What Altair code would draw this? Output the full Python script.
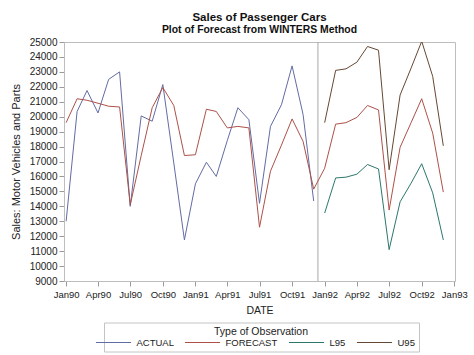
import altair as alt
import pandas as pd

# ---- data ----
dates = pd.date_range("1990-01-01", periods=36, freq="MS").strftime("%Y-%m-%d").tolist()

actual = [13000, 20350, 21750, 20250, 22500, 23000, 14000, 20050, 19700, 22150, 16900, 11750,
          15500, 16950, 16000, 18400, 20600, 19800, 14200, 19350, 20800, 23400, 20150, 14350]
forecast = [19600, 21200, 21100, 20900, 20700, 20650, 14100, 17400, 20600, 21950, 20750, 17400,
            17450, 20500, 20350, 19250, 19350, 19250, 12600, 16350, 18100, 19850, 18350, 15150,
            16550, 19500, 19600, 19950, 20750, 20450, 13750, 17950, 19600, 21200, 18900, 14950]
l95 = [13550, 15900, 15950, 16150, 16800, 16500, 11100, 14300, 15550, 16850, 14900, 11750]
u95 = [19600, 23100, 23200, 23650, 24700, 24450, 16450, 21450, 23250, 25050, 22700, 18050]

series_names = ["ACTUAL", "FORECAST", "L95", "U95"]
series_colors = ["#626ca4", "#ad5148", "#2c776e", "#654833"]
ref_date = ["1991-12-13"]
y_ticks = list(range(9000, 25001, 1000))
x_tick_dates = ["1990-01-01", "1990-04-01", "1990-07-01", "1990-10-01",
                "1991-01-01", "1991-04-01", "1991-07-01", "1991-10-01",
                "1992-01-01", "1992-04-01", "1992-07-01", "1992-10-01", "1993-01-01"]
x_domain = ["1989-12-26", "1993-01-03"]

rows = []
for d, v in zip(dates[:24], actual):
    rows.append({"DATE": d, "value": v, "type": "ACTUAL"})
for d, v in zip(dates, forecast):
    rows.append({"DATE": d, "value": v, "type": "FORECAST"})
for d, v in zip(dates[24:], l95):
    rows.append({"DATE": d, "value": v, "type": "L95"})
for d, v in zip(dates[24:], u95):
    rows.append({"DATE": d, "value": v, "type": "U95"})
df = pd.DataFrame(rows)


def ms(s):
    return int(pd.Timestamp(s, tz="UTC").value // 10**6)


FONT = "Liberation Sans"
x_ticks = [ms(d) for d in x_tick_dates]
x_scale = alt.Scale(type="utc", domain=[ms(d) for d in x_domain])
x_axis = alt.Axis(values=x_ticks, format="%b%y", title="DATE", grid=False,
                  labelFontSize=9.5, tickSize=5, labelPadding=3,
                  titleFontSize=10.5, titleFontWeight="normal", titlePadding=7,
                  labelFlush=False, labelOverlap=False)

lines = alt.Chart(df).mark_line(strokeWidth=1, clip=True).encode(
    x=alt.X("DATE:T", scale=x_scale, axis=x_axis),
    y=alt.Y("value:Q",
            scale=alt.Scale(domain=[9000, 25000], nice=False, zero=False),
            axis=alt.Axis(values=y_ticks, format="d", title="Sales: Motor Vehicles and Parts",
                          grid=False, labelFontSize=10, tickSize=5, labelPadding=2,
                          titleFontSize=11, titleFontWeight="normal", titlePadding=8)),
    color=alt.Color("type:N",
                    scale=alt.Scale(domain=series_names, range=series_colors),
                    legend=alt.Legend(orient="none", legendX=40, legendY=280.5,
                                      direction="horizontal", title="Type of Observation",
                                      titleAnchor="middle", titleFontSize=10.5,
                                      titleFontWeight="normal", titleColor="#222",
                                      labelFontSize=9.5, labelColor="#222",
                                      symbolType="M-3.9,0H3.9", symbolSize=81,
                                      symbolStrokeWidth=1.2, labelOffset=17.5,
                                      columnPadding=8, padding=4, titlePadding=0,
                                      strokeColor="#c4c4c4")),
)

ref = alt.Chart(pd.DataFrame({"DATE": ref_date})).mark_rule(color="#a8a8a8", strokeWidth=1).encode(
    x=alt.X("DATE:T", scale=x_scale, axis=x_axis)
)

chart = alt.layer(ref, lines).properties(
    width=391, height=239,
    autosize=alt.AutoSizeParams(type="none"),
    padding={"left": 64, "top": 42, "right": 19, "bottom": 74},
    title=alt.TitleParams(text="Sales of Passenger Cars",
                          subtitle="Plot of Forecast from WINTERS Method",
                          fontSize=11.5, subtitleFontSize=10.4,
                          fontWeight="bold", subtitleFontWeight="bold",
                          color="#111", subtitleColor="#111",
                          font=FONT, subtitleFont=FONT,
                          anchor="middle", offset=2, subtitlePadding=1),
).configure(
    font=FONT,
).configure_view(
    stroke="#bdbdbd", strokeWidth=1
).configure_axis(
    domainColor="#bdbdbd", tickColor="#9a9a9a", labelColor="#222", titleColor="#222",
    labelFont=FONT, titleFont=FONT
).configure_legend(
    labelFont=FONT, titleFont=FONT
)

chart.save("out.html", embed_options={"renderer": "svg", "actions": False})
